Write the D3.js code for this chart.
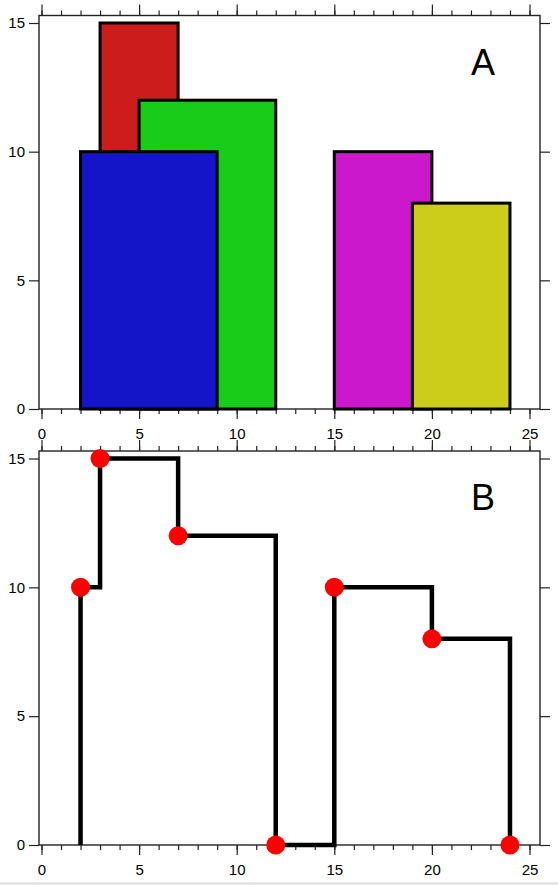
<!DOCTYPE html>
<html>
<head>
<meta charset="utf-8">
<script src="https://cdn.jsdelivr.net/npm/d3@7"></script>
<style>
  body { margin: 0; background: #fff; }
  svg { display: block; }
  text { font-family: "Liberation Sans", Arial, Helvetica, sans-serif; }
</style>
</head>
<body>
<svg></svg>
<script>
const width = 558, height = 885

// buildings: left edge, right edge, height
const buildingLeft = [3, 5, 2, 15, 19]
const buildingRight = [7, 12, 9, 20, 24]
const buildingHeight = [15, 12, 10, 10, 8]
const buildingColor = ['#cc1c1c', '#1acc1a', '#1414c8', '#cc18cc', '#cccc1a']

// skyline key points
const skyX = [2, 3, 7, 12, 15, 20, 24]
const skyY = [10, 15, 12, 0, 10, 8, 0]

const xTicks = [0, 5, 10, 15, 20, 25]
const xMinor = d3.range(0, 26)
const yTicks = [0, 5, 10, 15]

const svg = d3.select('svg').attr('width', width).attr('height', height)

// bottom strip of the page
svg.append('rect').attr('x', 0).attr('y', 882).attr('width', width).attr('height', 3).attr('fill', '#e6e6e6')

const x = d3.scaleLinear().domain([0, 25]).range([41.5, 529.5])
const frameLeft = 39, frameRight = 540

function panel(top, bottom, label) {
    // y: 0 at bottom, 15 a few px under frame top
    const y = d3.scaleLinear().domain([0, 15]).range([bottom, top + 7.5])
    const g = svg.append('g')

    const axStyle = (sel) => {
        sel.selectAll('.domain').remove()
        sel.selectAll('line').attr('stroke', '#222').attr('stroke-width', 1.2)
        sel.selectAll('text').attr('font-size', 15).attr('fill', '#000')
    }
    g.append('g').attr('transform', `translate(0,${bottom})`)
        .call(d3.axisBottom(x).tickValues(xMinor).tickSize(5).tickFormat(''))
        .call(axStyle)
    g.append('g').attr('transform', `translate(0,${bottom})`)
        .call(d3.axisBottom(x).tickValues(xTicks).tickSize(10).tickPadding(9).tickFormat(d3.format('d')))
        .call(axStyle)
    g.append('g').attr('transform', `translate(0,${top})`)
        .call(d3.axisTop(x).tickValues(xMinor).tickSize(5).tickFormat(''))
        .call(axStyle)
    g.append('g').attr('transform', `translate(0,${top})`)
        .call(d3.axisTop(x).tickValues(xTicks).tickSize(11).tickFormat(''))
        .call(axStyle)
    g.append('g').attr('transform', `translate(${frameLeft},0)`)
        .call(d3.axisLeft(y).tickValues(yTicks).tickSize(10).tickPadding(4).tickFormat(d3.format('d')))
        .call(axStyle)
    g.append('g').attr('transform', `translate(${frameRight},0)`)
        .call(d3.axisRight(y).tickValues(yTicks).tickSize(10).tickFormat(''))
        .call(axStyle)

    g.append('rect')
        .attr('x', frameLeft).attr('y', top)
        .attr('width', frameRight - frameLeft).attr('height', bottom - top)
        .attr('fill', 'none').attr('stroke', '#222').attr('stroke-width', 1.4)

    const marks = g.append('g')

    g.append('text')
        .attr('x', 483).attr('y', top + 59)
        .attr('text-anchor', 'middle')
        .attr('font-size', 36)
        .text(label)

    return { marks, y }
}

const pA = panel(15.5, 409, 'A')
pA.marks.selectAll('rect')
    .data(d3.range(buildingLeft.length))
    .enter().append('rect')
    .attr('x', i => x(buildingLeft[i]))
    .attr('y', i => pA.y(buildingHeight[i]))
    .attr('width', i => x(buildingRight[i]) - x(buildingLeft[i]))
    .attr('height', i => pA.y(0) - pA.y(buildingHeight[i]))
    .attr('fill', i => buildingColor[i])
    .attr('stroke', '#000')
    .attr('stroke-width', 3)

const pB = panel(451, 845, 'B')
const pts = [[skyX[0], 0]].concat(skyX.map((d, i) => [d, skyY[i]]))
const line = d3.line()
    .x(d => x(d[0]))
    .y(d => pB.y(d[1]))
    .curve(d3.curveStepAfter)
pB.marks.append('path')
    .attr('d', line(pts))
    .attr('fill', 'none')
    .attr('stroke', '#000')
    .attr('stroke-width', 4.5)
pB.marks.selectAll('circle')
    .data(skyX.map((d, i) => [d, skyY[i]]))
    .enter().append('circle')
    .attr('cx', d => x(d[0]))
    .attr('cy', d => pB.y(d[1]))
    .attr('r', 9.5)
    .attr('fill', '#ff0000')
</script>
</body>
</html>
